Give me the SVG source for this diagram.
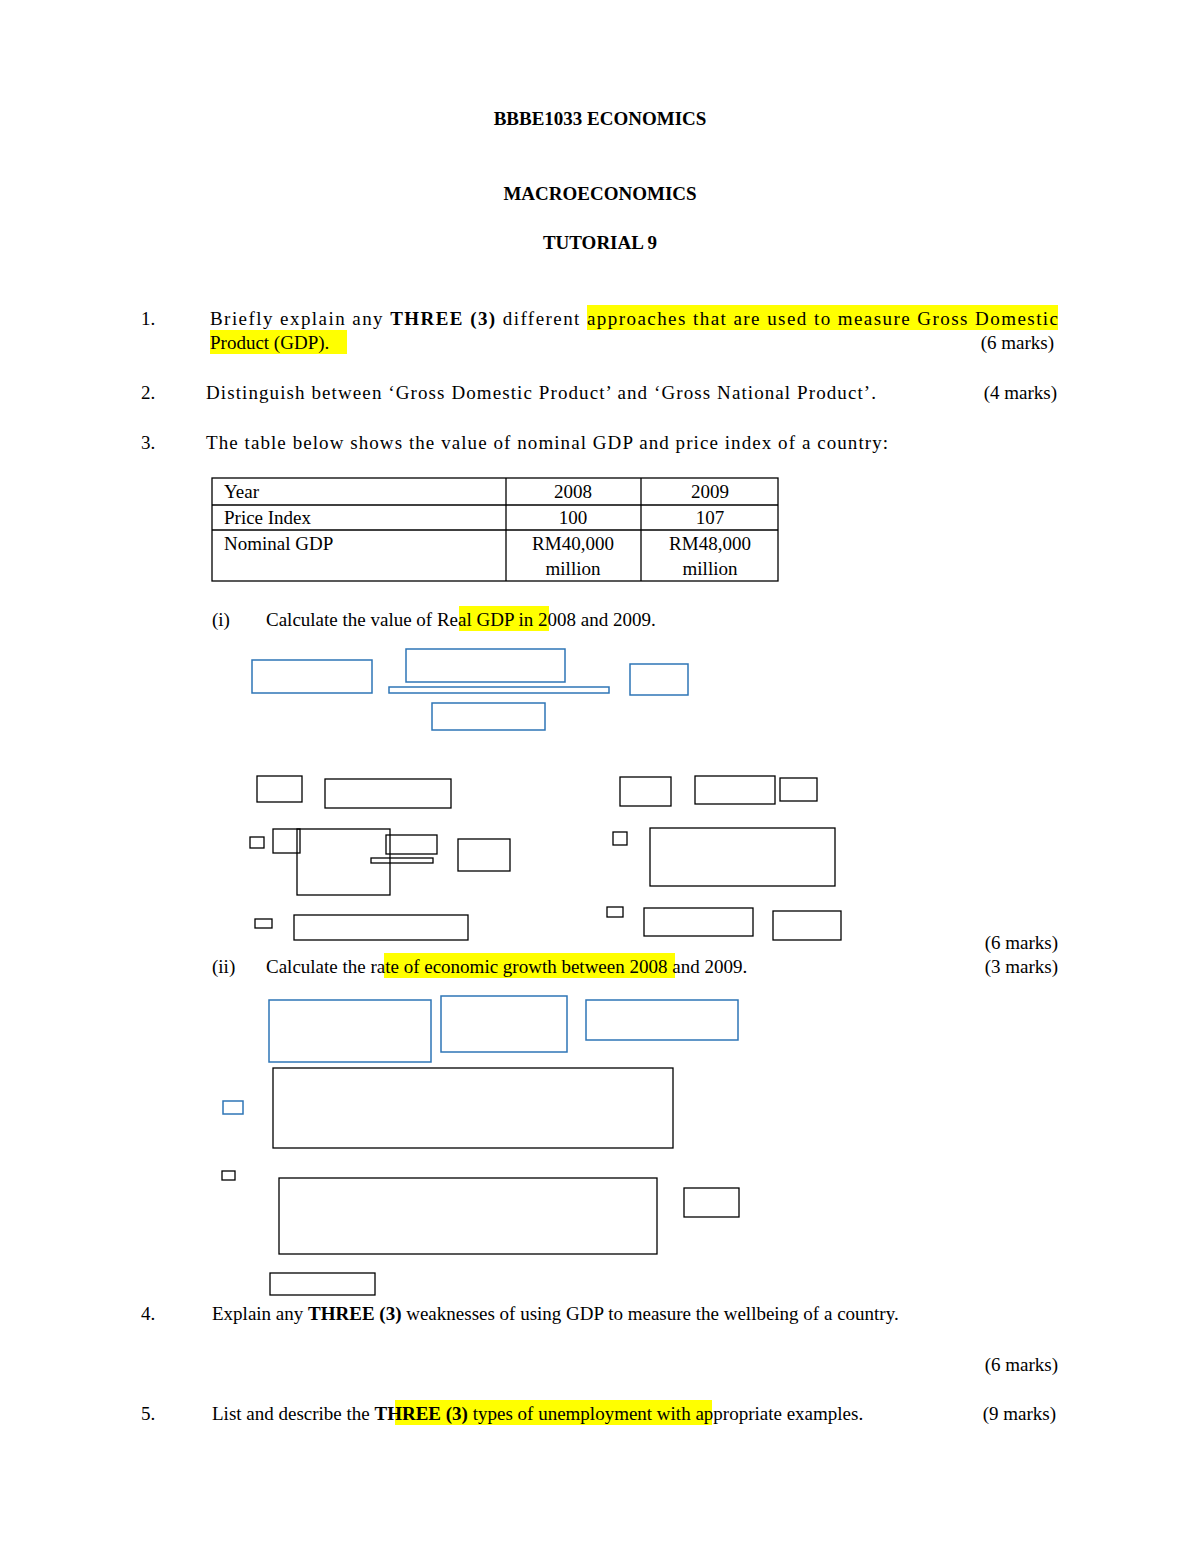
<svg xmlns="http://www.w3.org/2000/svg" width="1200" height="1553" viewBox="0 0 1200 1553">
<style>
text{font-family:"Liberation Serif","Times New Roman",serif;font-size:19px;fill:#000}
.b{font-weight:bold}
.hl{fill:#ffff00}
.bl{fill:none;stroke:#2e75b6;stroke-width:1.5}
.bk{fill:none;stroke:#000;stroke-width:1.3}
.t{stroke:#000;stroke-width:1.3}
</style>
<rect width="1200" height="1553" fill="#fff"/>
<text class="b" x="600" y="125" text-anchor="middle">BBBE1033 ECONOMICS</text>
<text class="b" x="600" y="200" text-anchor="middle">MACROECONOMICS</text>
<text class="b" x="600" y="249" text-anchor="middle">TUTORIAL 9</text>
<rect class="hl" x="587" y="305" width="471" height="25"/>
<rect class="hl" x="210" y="330" width="137" height="24"/>
<text x="141" y="325">1.</text>
<text x="210" y="325" textLength="848" lengthAdjust="spacing">Briefly explain any <tspan class="b">THREE (3)</tspan> different approaches that are used to measure Gross Domestic</text>
<text x="210" y="349">Product (GDP).</text>
<text x="1054" y="349" text-anchor="end">(6 marks)</text>
<text x="141" y="399">2.</text>
<text x="206" y="399" textLength="670" lengthAdjust="spacing">Distinguish between ‘Gross Domestic Product’ and ‘Gross National Product’.</text>
<text x="1057" y="399" text-anchor="end">(4 marks)</text>
<text x="141" y="449">3.</text>
<text x="206" y="449" textLength="682" lengthAdjust="spacing">The table below shows the value of nominal GDP and price index of a country:</text>
<g id="table">
<rect class="bk" x="212" y="478" width="566" height="103"/>
<line class="t" x1="212" y1="505" x2="778" y2="505"/>
<line class="t" x1="212" y1="530" x2="778" y2="530"/>
<line class="t" x1="506" y1="478" x2="506" y2="581"/>
<line class="t" x1="641" y1="478" x2="641" y2="581"/>
<text x="224" y="498">Year</text><text x="573" y="498" text-anchor="middle">2008</text><text x="710" y="498" text-anchor="middle">2009</text>
<text x="224" y="524">Price Index</text><text x="573" y="524" text-anchor="middle">100</text><text x="710" y="524" text-anchor="middle">107</text>
<text x="224" y="550">Nominal GDP</text><text x="573" y="550" text-anchor="middle">RM40,000</text><text x="710" y="550" text-anchor="middle">RM48,000</text>
<text x="573" y="575" text-anchor="middle">million</text><text x="710" y="575" text-anchor="middle">million</text>
</g>
<rect class="hl" x="459" y="606" width="90" height="25"/>
<text x="212" y="626">(i)</text>
<text x="266" y="626">Calculate the value of Real GDP in 2008 and 2009.</text>
<g id="boxes1">
<rect class="bl" x="252" y="660" width="120" height="33"/>
<rect class="bl" x="406" y="649" width="159" height="33"/>
<rect class="bl" x="389" y="687" width="220" height="6"/>
<rect class="bl" x="630" y="664" width="58" height="31"/>
<rect class="bl" x="432" y="703" width="113" height="27"/>
<rect class="bk" x="257" y="776" width="45" height="26"/>
<rect class="bk" x="325" y="779" width="126" height="29"/>
<rect class="bk" x="620" y="777" width="51" height="29"/>
<rect class="bk" x="695" y="776" width="80" height="28"/>
<rect class="bk" x="780" y="778" width="37" height="23"/>
<rect class="bk" x="250" y="837" width="14" height="11"/>
<rect class="bk" x="273" y="829" width="27" height="24"/>
<rect class="bk" x="297" y="829" width="93" height="66"/>
<rect class="bk" x="386" y="835" width="51" height="19"/>
<rect class="bk" x="371" y="858" width="62" height="5"/>
<rect class="bk" x="458" y="839" width="52" height="32"/>
<rect class="bk" x="613" y="832" width="14" height="13"/>
<rect class="bk" x="650" y="828" width="185" height="58"/>
<rect class="bk" x="255" y="919" width="17" height="9"/>
<rect class="bk" x="294" y="915" width="174" height="25"/>
<rect class="bk" x="607" y="907" width="16" height="10"/>
<rect class="bk" x="644" y="908" width="109" height="28"/>
<rect class="bk" x="773" y="911" width="68" height="29"/>
</g>
<text x="1058" y="949" text-anchor="end">(6 marks)</text>
<rect class="hl" x="384" y="953" width="291" height="25"/>
<text x="212" y="973">(ii)</text>
<text x="266" y="973">Calculate the rate of economic growth between 2008 and 2009.</text>
<text x="1058" y="973" text-anchor="end">(3 marks)</text>
<g id="boxes2">
<rect class="bl" x="269" y="1000" width="162" height="62"/>
<rect class="bl" x="441" y="996" width="126" height="56"/>
<rect class="bl" x="586" y="1000" width="152" height="40"/>
<rect class="bl" x="223" y="1101" width="20" height="13"/>
<rect class="bk" x="273" y="1068" width="400" height="80"/>
<rect class="bk" x="222" y="1171" width="13" height="9"/>
<rect class="bk" x="279" y="1178" width="378" height="76"/>
<rect class="bk" x="684" y="1188" width="55" height="29"/>
<rect class="bk" x="270" y="1273" width="105" height="22"/>
</g>
<text x="141" y="1320">4.</text>
<text x="212" y="1320">Explain any <tspan class="b">THREE (3)</tspan> weaknesses of using GDP to measure the wellbeing of a country.</text>
<text x="1058" y="1371" text-anchor="end">(6 marks)</text>
<rect class="hl" x="395" y="1400" width="317" height="25"/>
<text x="141" y="1420">5.</text>
<text x="212" y="1420">List and describe the <tspan class="b">THREE (3)</tspan> types of unemployment with appropriate examples.</text>
<text x="1056" y="1420" text-anchor="end">(9 marks)</text>
</svg>
